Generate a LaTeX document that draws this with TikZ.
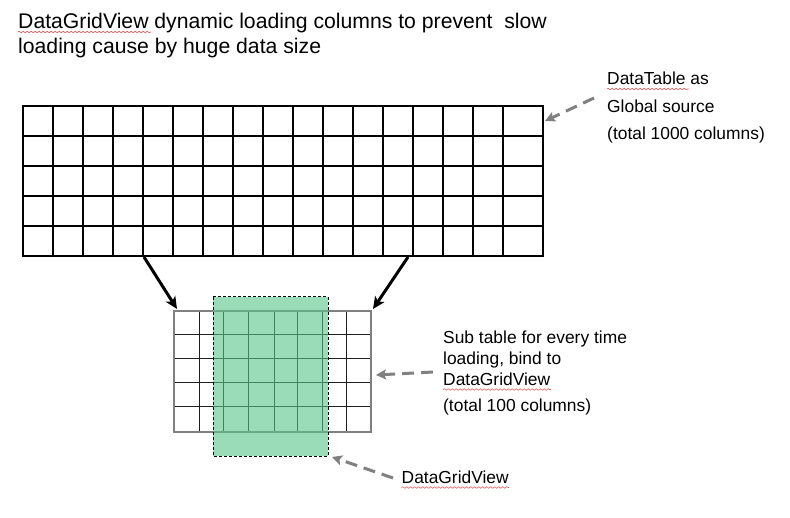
\documentclass[tikz,border=0pt]{standalone}
\usepackage{fontspec}
\setmainfont{Liberation Sans}
\usetikzlibrary{arrows.meta,decorations.pathmorphing}
\definecolor{outergray}{RGB}{128,128,128}
\definecolor{innerdark}{RGB}{30,30,30}
\definecolor{arrowgray}{RGB}{128,128,128}
\definecolor{greenfill}{RGB}{87,198,137}
\definecolor{squigred}{RGB}{230,90,90}
\begin{document}
\begin{tikzpicture}[x=1pt,y=-1pt,
  bigline/.style={line width=1.2pt,black},
  smallinner/.style={line width=1pt,innerdark},
  smallouter/.style={line width=1.5pt,outergray},
  greenbox/.style={fill=greenfill,fill opacity=0.6,draw=black,line width=1pt,dash pattern=on 3pt off 2pt},
  blackarrow/.style={line width=3pt,black,-{Stealth[length=12pt,width=11pt,inset=3pt]}},
  grayarrow/.style={line width=3pt,arrowgray,dash pattern=on 12pt off 7pt,-{Stealth[length=10pt,width=10pt,inset=2pt]}},
  titletext/.style={anchor=base west,inner sep=0pt,font=\fontsize{21.2}{25}\selectfont},
  labeltext/.style={anchor=base west,inner sep=0pt,font=\fontsize{17.4}{21}\selectfont},
  squiggle/.style={squigred,line width=0.6pt,decorate,decoration={snake,amplitude=0.8pt,segment length=4pt}}
]
\useasboundingbox[fill=white] (0,0) rectangle (790,518);

% title
\node[titletext] (title1) at (18,28.5) {DataGridView dynamic loading columns to prevent\ \ slow};
\node[titletext] (title2) at (18,54) {loading cause by huge data size};
\draw[squiggle] (18,32) -- (151,32);

% big table
\draw[bigline] (23,106) rectangle (543,256);
\foreach \x in {53,83,...,503} \draw[bigline] (\x,106) -- (\x,256);
\foreach \y in {136,166,196,226} \draw[bigline] (23,\y) -- (543,\y);

% small table
\foreach \x in {199,223,248,274,297,322,346} \draw[smallinner] (\x,311) -- (\x,432);
\foreach \y in {335,359,383,407} \draw[smallinner] (174,\y) -- (371,\y);
\draw[smallouter] (174,311) rectangle (371,432);

% green window
\draw[greenbox] (213,297) rectangle (328,456);

% black arrows
\coordinate (bigL) at (144,257);
\coordinate (subL) at (177,309);
\coordinate (bigR) at (408,257);
\coordinate (subR) at (373,309);
\draw[blackarrow] (bigL) -- (subL);
\draw[blackarrow] (bigR) -- (subR);

% right label
\node[labeltext] (dt1) at (607,85) {DataTable as};
\node[labeltext] (dt2) at (607,112.5) {Global source};
\node[labeltext] (dt3) at (607,140) {(total 1000 columns)};
\draw[squiggle] (607,89) -- (689,89);

% sub table label
\node[labeltext] (st1) at (443,343.5) {Sub table for every time};
\node[labeltext] (st2) at (443,364.5) {loading, bind to};
\node[labeltext] (st3) at (443,385.5) {DataGridView};
\node[labeltext] (st4) at (443,411.5) {(total 100 columns)};
\draw[squiggle] (443,389.5) -- (551,389.5);

% bottom label
\node[labeltext] (dg) at (401.5,483.5) {DataGridView};
\draw[squiggle] (401.5,487.5) -- (509,487.5);

% gray dashed arrows
\coordinate (dtTail) at (594,98);
\coordinate (dtTip) at (545,121);
\coordinate (stTail) at (433,372);
\coordinate (stTip) at (376,375);
\coordinate (dgTail) at (393,478);
\coordinate (dgTip) at (332,457);
\draw[grayarrow] (dtTail) -- (dtTip);
\draw[grayarrow] (stTail) -- (stTip);
\draw[grayarrow] (dgTail) -- (dgTip);
\end{tikzpicture}
\end{document}
